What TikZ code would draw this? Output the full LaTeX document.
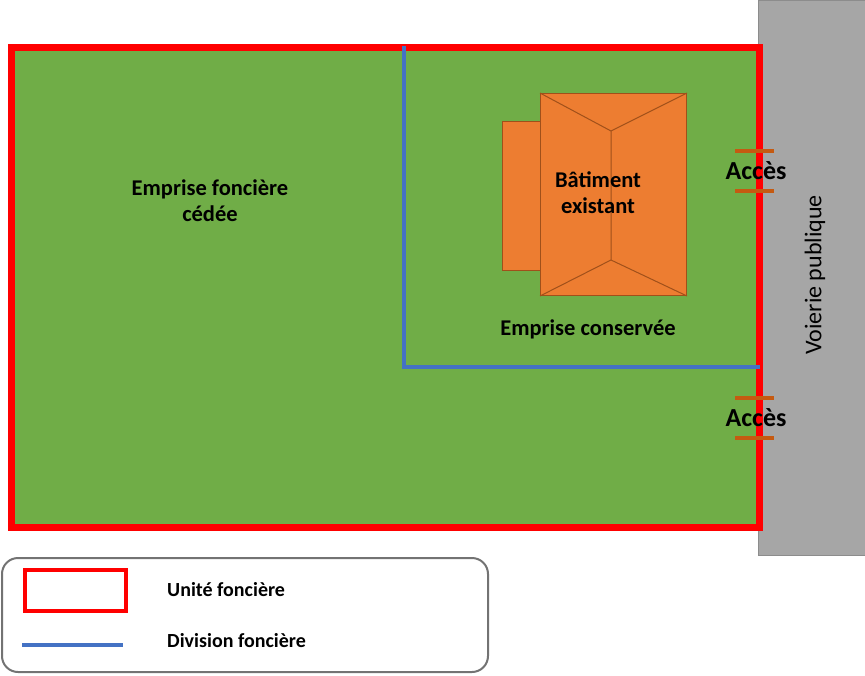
\documentclass[tikz,border=0pt]{standalone}
\usepackage{fontspec}
\setmainfont{Carlito}
\definecolor{grass}{HTML}{70AD47}
\definecolor{roof}{HTML}{ED7D31}
\definecolor{roofline}{HTML}{A0501A}
\definecolor{accmark}{HTML}{C55A11}
\definecolor{road}{HTML}{A6A6A6}
\definecolor{divblue}{HTML}{4472C4}
\tikzset{lbl/.style={font=\bfseries\fontsize{22.5}{26}\selectfont, align=center, inner sep=0},
 acc/.style={draw=accmark, line width=4pt},
 roofst/.style={fill=roof, draw=roofline, line width=1pt}}
\begin{document}
\begin{tikzpicture}[x=1pt,y=-1pt]
\useasboundingbox (0,0) rectangle (865,675);
\node[fill=road, draw=black!45, line width=0.6pt, minimum width=107pt, minimum height=555pt, anchor=north west, inner sep=0] (road) at (758,0) {};
\node[rotate=90, font=\fontsize{24}{26}\selectfont] (rl) at (815,275) {Voierie publique};
\node[fill=grass, draw=red, line width=6.5pt, minimum width=748pt, minimum height=480pt, anchor=north west, inner sep=0] (uf) at (8,44) {};
\node[roofst, minimum width=38pt, minimum height=149pt, anchor=north west, inner sep=0] (annex) at (502,121) {};
\node[roofst, minimum width=146pt, minimum height=202pt, anchor=north west, inner sep=0] (bat) at (540,93) {};
\coordinate (r1) at (611,131);
\coordinate (r2) at (611,260);
\draw[roofline, line width=1pt] (bat.north west) -- (r1) -- (bat.north east) (r1) -- (r2) (bat.south west) -- (r2) -- (bat.south east);
\coordinate (b1) at (404,46);
\coordinate (b2) at (404,367);
\coordinate (b3) at (760,367);
\draw[divblue, line width=3.5pt] (b1) -- (b2) -- (b3);
\node[lbl] (ec) at (210,201) {Emprise foncière\\cédée};
\node[lbl] (be) at (598,193) {Bâtiment\\existant};
\node[lbl] (cons) at (588,329) {Emprise conservée};
\foreach \n/\y in {a/171, b/418}{
 \coordinate (\n1) at (735,\y-20); \coordinate (\n2) at (774,\y-20);
 \coordinate (\n3) at (735,\y+20); \coordinate (\n4) at (774,\y+20);
 \draw[acc] (\n1) -- (\n2); \draw[acc] (\n3) -- (\n4);
 \node[font=\bfseries\fontsize{26}{28}\selectfont, inner sep=0] (acc\n) at (756,\y) {Accès};
}
\node[draw=black!55, line width=2pt, rounded corners=16pt, minimum width=486pt, minimum height=114pt, anchor=north west, inner sep=0] (leg) at (1,557) {};
\node[draw=red, line width=4pt, minimum width=101pt, minimum height=41pt, anchor=north west, inner sep=0] (lr) at (23,568) {};
\coordinate (lb1) at (22,645); \coordinate (lb2) at (123,645);
\draw[divblue, line width=3.5pt] (lb1) -- (lb2);
\node[font=\bfseries\fontsize{20}{22}\selectfont, anchor=west, inner sep=0] (t1) at (167,590) {Unité foncière};
\node[font=\bfseries\fontsize{20}{22}\selectfont, anchor=west, inner sep=0] (t2) at (167,641) {Division foncière};
\end{tikzpicture}
\end{document}
